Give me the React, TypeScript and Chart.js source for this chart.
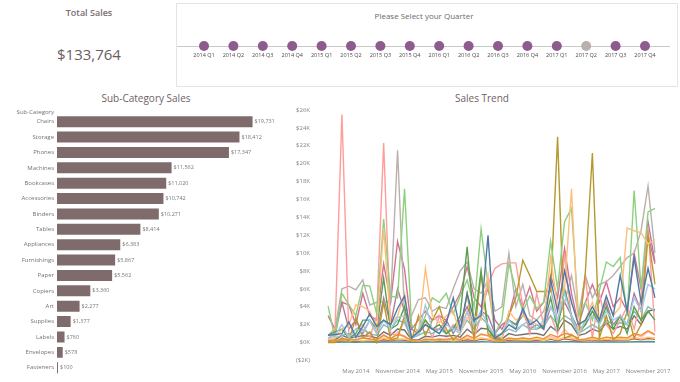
import React, { useEffect, useRef } from 'react';
import { Chart, registerables } from 'chart.js';
Chart.register(...registerables);

const FONT = '"Open Sans", "Noto Sans", sans-serif';

const TOTAL_SALES = '$133,764';

const QUARTERS = [
  '2014 Q1', '2014 Q2', '2014 Q3', '2014 Q4',
  '2015 Q1', '2015 Q2', '2015 Q3', '2015 Q4',
  '2016 Q1', '2016 Q2', '2016 Q3', '2016 Q4',
  '2017 Q1', '2017 Q2', '2017 Q3', '2017 Q4',
];
const QUARTER_LEVEL = [0, 0, 0, 0, 0, 0, 0, 0, 0, 0, 0, 0, 0, 0, 0, 0];
const UNSELECTED_QUARTER = '2017 Q2';

const SUBCATS = [
  'Chairs', 'Storage', 'Phones', 'Machines', 'Bookcases', 'Accessories', 'Binders', 'Tables',
  'Appliances', 'Furnishings', 'Paper', 'Copiers', 'Art', 'Supplies', 'Labels', 'Envelopes', 'Fasteners',
];
const SUBCAT_SALES = [
  19731, 18412, 17347, 11562, 11020, 10742, 10271, 8414,
  6383, 5867, 5562, 3360, 2277, 1377, 760, 578, 100,
];

const YEARS = ['2014', '2015', '2016', '2017'];
const MONTH_NAMES = ['January', 'February', 'March', 'April', 'May', 'June', 'July', 'August', 'September', 'October', 'November', 'December'];
const MONTHS = YEARS.flatMap((y) => MONTH_NAMES.map((m) => `${m} ${y}`));

// Monthly sales in $K per sub-category (Jan 2014 .. Dec 2017)
const ACCESSORIES = [0.8, 0.9, 1.0, 2.3, 0.6, 1.8, 3.2, 1.8, 2.5, 2.0, 3.8, 5.2, 0.5, 1.2, 2.0, 1.5, 1.0, 2.2, 5.0, 1.5, 5.5, 2.5, 3.0, 12.0, 0.5, 1.0, 2.0, 1.5, 3.8, 2.0, 2.5, 1.5, 7.0, 3.5, 8.0, 4.5, 2.0, 2.5, 4.0, 2.5, 5.2, 3.0, 7.5, 3.5, 9.5, 4.5, 8.3, 5.0];
const APPLIANCES = [0.5, 0.8, 2.0, 0.5, 1.5, 1.2, 2.5, 1.0, 2.5, 1.5, 2.8, 3.0, 0.5, 1.0, 4.2, 1.5, 1.0, 2.0, 1.5, 1.0, 3.5, 2.0, 3.5, 2.0, 0.8, 1.0, 2.5, 1.5, 2.0, 2.5, 1.5, 2.5, 4.0, 2.5, 5.5, 3.0, 1.0, 2.5, 3.0, 2.0, 3.5, 2.5, 3.0, 2.0, 5.0, 3.5, 6.5, 6.0];
const ART = [0.1, 0.2, 0.3, 0.4, 0.3, 0.5, 0.4, 0.3, 0.8, 0.4, 0.9, 0.7, 0.2, 0.1, 0.4, 0.3, 0.4, 0.3, 0.5, 0.3, 0.8, 0.5, 0.9, 0.8, 0.3, 0.2, 0.5, 0.4, 0.5, 0.4, 0.6, 0.4, 0.9, 0.6, 1.0, 0.9, 0.3, 0.4, 0.6, 0.4, 0.6, 0.5, 0.6, 0.5, 1.0, 0.8, 1.3, 0.9];
const BINDERS = [0.3, 0.5, 1.5, 2.0, 4.2, 4.0, 3.5, 1.5, 12.8, 2.0, 3.0, 5.5, 0.5, 1.0, 8.3, 3.0, 2.2, 3.0, 3.5, 1.0, 2.8, 3.0, 2.5, 7.5, 1.0, 0.5, 3.5, 2.5, 3.0, 2.5, 2.0, 2.0, 9.5, 4.0, 6.0, 17.2, 0.8, 2.5, 4.5, 2.5, 5.0, 3.0, 4.0, 12.8, 12.5, 12.3, 11.0, 11.5];
const BOOKCASES = [0.8, 1.2, 1.5, 0.5, 1.0, 2.5, 2.5, 1.5, 7.2, 1.5, 2.0, 4.0, 0.5, 1.0, 2.5, 1.5, 2.0, 1.0, 1.5, 3.0, 10.7, 2.0, 8.0, 1.5, 0.5, 1.0, 2.5, 2.0, 3.0, 2.5, 1.5, 2.0, 5.0, 1.5, 6.0, 3.0, 1.0, 2.0, 3.5, 2.0, 4.0, 1.5, 3.0, 1.0, 4.0, 2.5, 3.5, 2.5];
const CHAIRS = [4.1, 0.5, 5.5, 4.2, 3.0, 6.4, 6.3, 3.2, 13.8, 5.2, 5.0, 17.2, 2.0, 1.2, 3.0, 5.0, 4.5, 5.5, 3.2, 5.2, 7.0, 4.0, 12.7, 6.5, 1.0, 2.5, 8.8, 6.0, 3.5, 5.2, 3.8, 4.5, 11.3, 6.0, 13.5, 15.0, 3.0, 4.5, 2.5, 5.8, 9.0, 8.5, 9.5, 3.0, 17.0, 6.0, 14.6, 15.0];
const COPIERS = [0.0, 0.0, 0.5, 0.2, 2.8, 0.5, 1.2, 0.0, 4.5, 0.3, 0.5, 3.0, 0.2, 3.0, 0.8, 2.5, 4.0, 1.5, 0.3, 1.0, 5.5, 0.5, 7.8, 1.0, 0.5, 0.5, 3.0, 5.0, 9.2, 7.5, 5.7, 5.7, 5.7, 23.0, 0.5, 0.8, 0.5, 8.0, 21.2, 0.5, 3.0, 0.3, 1.0, 3.5, 0.5, 2.0, 12.0, 6.5];
const ENVELOPES = [0.1, 0.2, 0.3, 0.2, 0.3, 0.2, 0.3, 0.2, 0.5, 0.3, 0.4, 0.4, 0.2, 0.1, 0.3, 0.2, 0.3, 0.3, 0.2, 0.3, 0.5, 0.3, 0.5, 0.4, 0.2, 0.2, 0.4, 0.3, 0.3, 0.3, 0.4, 0.2, 0.5, 0.3, 0.6, 0.5, 0.3, 0.3, 0.4, 0.3, 0.4, 0.3, 0.4, 0.3, 0.6, 0.4, 0.6, 0.5];
const FASTENERS = [0.02, 0.03, 0.05, 0.04, 0.03, 0.05, 0.04, 0.03, 0.08, 0.05, 0.07, 0.06, 0.03, 0.02, 0.05, 0.04, 0.05, 0.04, 0.05, 0.04, 0.08, 0.05, 0.09, 0.07, 0.04, 0.03, 0.06, 0.05, 0.06, 0.05, 0.06, 0.05, 0.09, 0.06, 0.1, 0.08, 0.05, 0.04, 0.07, 0.05, 0.07, 0.06, 0.07, 0.06, 0.1, 0.08, 0.12, 0.09];
const FURNISHINGS = [0.3, 0.5, 0.8, 1.0, 0.5, 1.5, 1.0, 0.8, 2.0, 1.5, 2.5, 2.2, 0.5, 0.8, 1.2, 1.0, 1.5, 1.0, 1.8, 1.2, 2.5, 1.5, 2.8, 2.0, 0.5, 1.0, 1.5, 1.2, 2.0, 1.5, 1.5, 1.8, 3.0, 2.0, 3.0, 2.5, 1.0, 1.5, 2.0, 1.5, 2.5, 2.0, 2.2, 2.0, 3.5, 2.5, 4.0, 3.5];
const LABELS = [0.05, 0.1, 0.2, 0.15, 0.1, 0.2, 0.15, 0.1, 0.3, 0.2, 0.3, 0.25, 0.1, 0.05, 0.2, 0.15, 0.2, 0.1, 0.2, 0.15, 0.3, 0.2, 0.35, 0.3, 0.1, 0.15, 0.25, 0.2, 0.2, 0.15, 0.25, 0.2, 0.35, 0.2, 0.4, 0.3, 0.15, 0.2, 0.3, 0.2, 0.25, 0.2, 0.3, 0.25, 0.4, 0.3, 0.45, 0.35];
const MACHINES = [0.5, 1.0, 25.5, 0.8, 1.5, 2.0, 0.5, 3.0, 22.3, 1.0, 0.8, 2.5, 0.3, 1.5, 2.5, 0.5, 3.0, 1.0, 2.0, 1.5, 3.5, 0.5, 3.0, 6.5, 8.3, 8.8, 8.9, 8.9, 4.0, 1.0, 5.5, 2.0, 3.0, 1.0, 10.0, 2.5, 1.5, 7.3, 0.5, 5.5, 2.0, 1.0, 2.5, 4.0, 1.5, 5.0, 13.0, 1.2];
const PAPER = [0.2, 0.3, 0.8, 0.5, 0.6, 0.8, 0.7, 0.5, 1.2, 0.8, 1.5, 1.4, 0.3, 0.3, 0.7, 0.6, 0.8, 0.7, 0.8, 0.6, 1.5, 0.9, 1.6, 1.5, 0.4, 0.4, 1.0, 0.8, 0.9, 1.0, 1.0, 0.8, 1.8, 1.2, 2.5, 2.0, 0.8, 1.0, 1.5, 1.2, 2.2, 1.5, 1.8, 1.5, 3.0, 2.0, 3.5, 3.7];
const PHONES = [0.8, 1.5, 6.0, 6.3, 5.9, 7.0, 4.2, 4.5, 4.6, 4.5, 21.5, 3.0, 3.0, 4.8, 5.0, 3.5, 4.0, 3.8, 6.0, 8.0, 9.0, 6.0, 5.5, 7.0, 3.5, 4.0, 10.0, 4.0, 6.5, 3.0, 2.5, 3.5, 6.0, 2.5, 4.5, 7.5, 3.0, 7.5, 5.0, 6.5, 6.8, 7.5, 8.5, 9.5, 10.0, 12.5, 17.5, 10.0];
const STORAGE = [3.0, 1.5, 4.5, 4.2, 2.0, 5.5, 3.0, 2.5, 8.8, 4.5, 11.3, 8.2, 1.5, 2.5, 3.5, 2.5, 3.0, 2.5, 4.0, 5.5, 8.5, 5.0, 4.0, 6.0, 2.5, 1.5, 3.0, 6.0, 4.0, 6.2, 3.5, 4.5, 7.5, 5.0, 10.5, 5.5, 2.0, 4.5, 6.5, 4.5, 6.8, 4.0, 5.0, 3.5, 10.0, 6.0, 12.0, 8.8];
const SUPPLIES = [0.1, 0.2, 0.5, 0.3, 0.2, 0.8, 0.3, 0.2, 0.9, 0.4, 1.2, 0.6, 0.2, 0.1, 0.3, 0.4, 0.2, 0.5, 0.3, 0.4, 0.8, 0.3, 1.0, 0.7, 0.1, 0.2, 0.4, 0.3, 0.5, 0.3, 0.4, 0.2, 0.7, 0.4, 1.5, 0.5, 0.2, 0.3, 0.5, 0.3, 0.6, 0.4, 0.5, 0.3, 1.0, 0.6, 1.2, 0.8];
const TABLES = [0.5, 0.8, 4.5, 1.5, 2.5, 1.0, 2.5, 1.0, 5.0, 2.0, 6.0, 3.5, 1.5, 1.0, 2.0, 1.5, 1.5, 2.5, 1.0, 2.5, 4.0, 2.0, 3.5, 3.0, 1.0, 2.0, 2.5, 2.0, 3.5, 1.5, 2.0, 1.5, 4.0, 2.5, 4.5, 3.0, 1.5, 2.0, 3.5, 2.5, 4.5, 2.0, 3.0, 2.0, 5.5, 3.5, 13.5, 9.0];

const LINE_SERIES = [
  { name: 'Accessories', data: ACCESSORIES, color: '#4e79a7' },
  { name: 'Appliances', data: APPLIANCES, color: '#a0cbe8' },
  { name: 'Art', data: ART, color: '#f28e2b' },
  { name: 'Binders', data: BINDERS, color: '#ffbe7d' },
  { name: 'Bookcases', data: BOOKCASES, color: '#59a14f' },
  { name: 'Chairs', data: CHAIRS, color: '#8cd17d' },
  { name: 'Copiers', data: COPIERS, color: '#b6992d' },
  { name: 'Envelopes', data: ENVELOPES, color: '#f1ce63' },
  { name: 'Fasteners', data: FASTENERS, color: '#499894' },
  { name: 'Furnishings', data: FURNISHINGS, color: '#86bcb6' },
  { name: 'Labels', data: LABELS, color: '#e15759' },
  { name: 'Machines', data: MACHINES, color: '#ff9d9a' },
  { name: 'Paper', data: PAPER, color: '#79706e' },
  { name: 'Phones', data: PHONES, color: '#bab0ac' },
  { name: 'Storage', data: STORAGE, color: '#d37295' },
  { name: 'Supplies', data: SUPPLIES, color: '#fabfd2' },
  { name: 'Tables', data: TABLES, color: '#b07aa1' },
];

const TITLE_COLOR = '#6e6164';
const TICK_COLOR = '#737373';
const AXIS_TICK_COLOR = '#858585';

const barValueLabels = {
  id: 'barValueLabels',
  afterDatasetsDraw(chart: any) {
    const { ctx } = chart;
    const meta = chart.getDatasetMeta(0);
    const data = chart.data.datasets[0].data as number[];
    ctx.save();
    ctx.font = `5.5px ${FONT}`;
    ctx.fillStyle = '#777';
    ctx.textBaseline = 'middle';
    ctx.textAlign = 'left';
    meta.data.forEach((el: any, i: number) => {
      ctx.fillText('$' + data[i].toLocaleString('en-US'), el.x + 2, el.y);
    });
    ctx.restore();
  },
};

function Text(props: { x: number; y: number; w: number; size: number; weight?: number; color?: string; align?: 'left' | 'center' | 'right'; children: React.ReactNode }) {
  const { x, y, w, size, weight = 400, color = TITLE_COLOR, align = 'center', children } = props;
  const lh = Math.ceil(size * 1.4);
  return (
    <div
      style={{
        position: 'absolute',
        left: x,
        top: y - lh / 2,
        width: w,
        height: lh,
        lineHeight: `${lh}px`,
        fontSize: size,
        fontWeight: weight,
        color,
        textAlign: align,
        whiteSpace: 'nowrap',
      }}
    >
      {children}
    </div>
  );
}

export default function App() {
  const qRef = useRef<HTMLCanvasElement>(null);
  const bRef = useRef<HTMLCanvasElement>(null);
  const lRef = useRef<HTMLCanvasElement>(null);

  useEffect(() => {
    const charts: Chart[] = [];

    charts.push(
      new Chart(qRef.current as HTMLCanvasElement, {
        type: 'line',
        data: {
          labels: QUARTERS,
          datasets: [
            {
              data: QUARTER_LEVEL,
              showLine: false,
              pointRadius: 5,
              pointHoverRadius: 5,
              pointBorderWidth: 0,
              pointBackgroundColor: QUARTERS.map((q) => (q === UNSELECTED_QUARTER ? '#bab0ac' : '#8e5b8d')),
              clip: false as any,
            },
          ],
        },
        options: {
          responsive: false,
          animation: false,
          events: [],
          plugins: { legend: { display: false }, tooltip: { enabled: false } },
          layout: { padding: { left: 27, right: 32, top: 37, bottom: 0 } },
          scales: {
            x: {
              grid: { display: false, drawTicks: false },
              border: { display: false },
              ticks: { font: { family: FONT, size: 5.5 }, color: '#4a4a4a', padding: 1, autoSkip: false, maxRotation: 0 },
              afterFit: (s: any) => {
                s.height = 35;
              },
            },
            y: { display: false, min: -1, max: 1 },
          },
        },
      } as any)
    );

    charts.push(
      new Chart(bRef.current as HTMLCanvasElement, {
        type: 'bar',
        data: {
          labels: SUBCATS,
          datasets: [
            {
              data: SUBCAT_SALES,
              backgroundColor: '#7f6b6c',
              barPercentage: 0.71,
              categoryPercentage: 1,
            },
          ],
        },
        options: {
          indexAxis: 'y',
          responsive: false,
          animation: false,
          events: [],
          layout: { padding: { top: 26, bottom: 5, left: 0, right: 0 } },
          plugins: { legend: { display: false }, tooltip: { enabled: false } },
          scales: {
            x: { display: false, min: 0, max: 22500 },
            y: {
              grid: { display: false, drawTicks: false },
              border: { display: false },
              ticks: { font: { family: FONT, size: 6 }, color: TICK_COLOR, padding: 3, autoSkip: false },
              afterFit: (s: any) => {
                s.width = 57;
              },
            },
          },
        },
        plugins: [barValueLabels],
      } as any)
    );

    charts.push(
      new Chart(lRef.current as HTMLCanvasElement, {
        type: 'line',
        data: {
          labels: MONTHS,
          datasets: LINE_SERIES.map((s) => ({
            label: s.name,
            data: s.data,
            borderColor: s.color,
            backgroundColor: s.color,
            borderWidth: 1.4,
            pointRadius: 0,
            tension: 0,
            fill: false,
          })),
        },
        options: {
          responsive: false,
          animation: false,
          events: [],
          layout: { padding: { top: 22, right: 25, left: 0, bottom: 0 } },
          plugins: { legend: { display: false }, tooltip: { enabled: false } },
          scales: {
            x: {
              grid: { display: false, drawTicks: false },
              border: { display: false },
              ticks: {
                autoSkip: false,
                maxRotation: 0,
                font: { family: FONT, size: 6 },
                color: AXIS_TICK_COLOR,
                padding: 7,
                callback: (_v: any, i: number) => {
                  const l = MONTHS[i];
                  return l.startsWith('May') || l.startsWith('November') ? l : '';
                },
              },
              afterFit: (s: any) => {
                s.height = 20;
              },
            },
            y: {
              min: -2,
              max: 26,
              grid: {
                drawTicks: false,
                color: (c: any) => (c.tick && c.tick.value === 0 ? '#e0e0e0' : 'rgba(0,0,0,0)'),
              },
              border: { display: false },
              ticks: {
                stepSize: 2,
                font: { family: FONT, size: 6 },
                color: AXIS_TICK_COLOR,
                padding: 18,
                callback: (v: any) => (v < 0 ? `($${-v}K)` : `$${v}K`),
              },
              afterFit: (s: any) => {
                s.width = 48;
              },
            },
          },
        },
      } as any)
    );

    return () => charts.forEach((c) => c.destroy());
  }, []);

  return (
    <div
      style={{
        position: 'fixed',
        left: 0,
        top: 0,
        width: 680,
        height: 382,
        background: '#fff',
        fontFamily: FONT,
        overflow: 'hidden',
      }}
    >
      <Text x={39} y={12.5} w={100} size={9} weight={600} color="#7a6d70">
        Total Sales
      </Text>
      <Text x={19} y={54} w={140} size={15} weight={500} color="#6a5c60">
        {TOTAL_SALES}
      </Text>

      <div
        style={{
          position: 'absolute',
          left: 176,
          top: 3,
          width: 502,
          height: 84,
          border: '1px solid #e4e4e4',
          boxSizing: 'border-box',
        }}
      />
      <div style={{ position: 'absolute', left: 177, top: 46, width: 493, height: 1, background: '#c9c9c9' }} />
      <Text x={324} y={15.7} w={200} size={8} color="#6a6a6a">
        Please Select your Quarter
      </Text>
      <canvas ref={qRef} width={500} height={82} style={{ position: 'absolute', left: 177, top: 4 }} />

      <Text x={46} y={98.3} w={200} size={10} color={TITLE_COLOR}>
        Sub-Category Sales
      </Text>
      <Text x={0} y={112} w={54} size={6} color={TICK_COLOR} align="right">
        Sub-Category
      </Text>
      <canvas ref={bRef} width={280} height={294} style={{ position: 'absolute', left: 0, top: 88 }} />

      <Text x={382} y={97.7} w={200} size={10} color={TITLE_COLOR}>
        Sales Trend
      </Text>
      <canvas ref={lRef} width={400} height={294} style={{ position: 'absolute', left: 280, top: 88 }} />
    </div>
  );
}
